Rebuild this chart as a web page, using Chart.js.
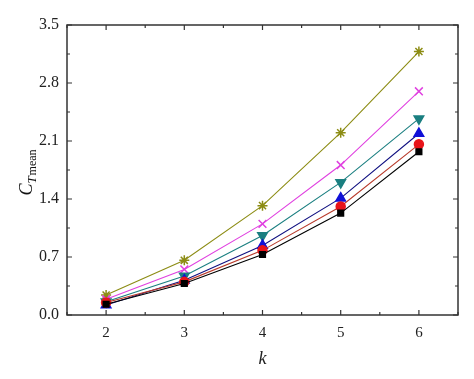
<!DOCTYPE html>
<html>
<head>
<meta charset="utf-8">
<script src="https://cdn.jsdelivr.net/npm/chart.js@4.4.0/dist/chart.umd.min.js"></script>
<style>
  html, body { margin: 0; padding: 0; background: #fff; }
  #wrap { width: 474px; height: 379px; position: relative; }
</style>
</head>
<body>
<div id="wrap"><canvas id="chart"></canvas></div>
<script>
// data
const kValues = [2, 3, 4, 5, 6];
const squareSeries = [0.13, 0.38, 0.73, 1.23, 1.97];
const circleSeries = [0.15, 0.40, 0.78, 1.31, 2.06];
const triangleSeries = [0.12, 0.42, 0.84, 1.41, 2.19];
const downTriSeries = [0.16, 0.47, 0.96, 1.60, 2.37];
const crossSeries = [0.19, 0.55, 1.10, 1.81, 2.70];
const starSeries = [0.24, 0.66, 1.32, 2.20, 3.18];
const yTicks = [0, 0.7, 1.4, 2.1, 2.8, 3.5];

const pts = arr => arr.map((v, i) => ({ x: kValues[i], y: v }));

function series(data, color, lineColor, style, radius, rotation) {
    return {
        data: pts(data),
        borderColor: lineColor,
        backgroundColor: color,
        pointBorderColor: color,
        pointBackgroundColor: color,
        pointStyle: style,
        pointRadius: radius,
        pointRotation: rotation || 0,
        pointBorderWidth: 1.5,
        borderWidth: 1.1,
        showLine: true,
        tension: 0
    };
}

// frame, inward ticks and y title
const framePlugin = {
    id: 'frame',
    afterDraw(chart) {
        const { ctx, chartArea: a, scales } = chart;
        const xs = scales.x, ys = scales.y;
        ctx.save();
        ctx.strokeStyle = '#333';
        ctx.lineWidth = 1.5;
        ctx.strokeRect(a.left, a.top, a.right - a.left, a.bottom - a.top);
        ctx.lineWidth = 1.2;
        ctx.beginPath();
        for (let k = 1.5; k <= 6.5; k += 0.5) {
            const px = xs.getPixelForValue(k);
            const len = Number.isInteger(k) ? 5 : 3;
            ctx.moveTo(px, a.bottom); ctx.lineTo(px, a.bottom - len);
            ctx.moveTo(px, a.top); ctx.lineTo(px, a.top + len);
        }
        for (let i = 0; i <= 10; i++) {
            const v = i * 0.35;
            const py = ys.getPixelForValue(v);
            const len = i % 2 === 0 ? 5 : 3;
            ctx.moveTo(a.left, py); ctx.lineTo(a.left + len, py);
            ctx.moveTo(a.right, py); ctx.lineTo(a.right - len, py);
        }
        ctx.stroke();

        // y title: C_{T mean}
        ctx.translate(26, 173);
        ctx.rotate(-Math.PI / 2);
        ctx.fillStyle = '#111';
        ctx.textBaseline = 'alphabetic';
        ctx.textAlign = 'left';
        ctx.font = 'italic 18px "Liberation Serif", serif';
        const cW = ctx.measureText('C').width;
        ctx.font = 'italic 13px "Liberation Serif", serif';
        const tW = ctx.measureText('T').width;
        ctx.font = '12px "Liberation Serif", serif';
        const mW = ctx.measureText('mean').width;
        let x0 = -(cW + tW + mW) / 2;
        ctx.font = 'italic 18px "Liberation Serif", serif';
        ctx.fillText('C', x0, 6);
        ctx.font = 'italic 13px "Liberation Serif", serif';
        ctx.fillText('T', x0 + cW, 10);
        ctx.font = '12px "Liberation Serif", serif';
        ctx.fillText('mean', x0 + cW + tW + 1, 10);
        ctx.restore();
    }
};

new Chart(document.getElementById('chart'), {
    type: 'scatter',
    data: {
        datasets: [
            series(squareSeries, '#000000', '#000000', 'rect', 4),
            series(circleSeries, '#e8141a', '#b83a2a', 'circle', 4.5),
            series(triangleSeries, '#1010d8', '#101080', 'triangle', 5.5),
            series(downTriSeries, '#1a7f80', '#1a7f80', 'triangle', 5.5, 180),
            series(crossSeries, '#e040e0', '#e040e0', 'crossRot', 5.5),
            series(starSeries, '#8c8c14', '#8c8c14', 'star', 5)
        ]
    },
    options: {
        responsive: true,
        maintainAspectRatio: false,
        animation: false,
        layout: { padding: { top: 25, right: 16, left: 0, bottom: 0 } },
        plugins: {
            legend: { display: false },
            tooltip: { enabled: false }
        },
        scales: {
            x: {
                type: 'linear',
                min: 1.5, max: 6.5,
                grid: { display: false, drawTicks: false },
                border: { display: false },
                afterBuildTicks: s => { s.ticks = kValues.map(v => ({ value: v })); },
                afterFit: s => { s.height = 64; },
                ticks: {
                    color: '#222',
                    padding: 9,
                    font: { family: '"Liberation Serif", serif', size: 15 }
                },
                title: {
                    display: true,
                    text: 'k',
                    color: '#222',
                    padding: { top: 0, bottom: 9 },
                    font: { family: '"Liberation Serif", serif', size: 18, style: 'italic' }
                }
            },
            y: {
                min: 0, max: 3.5,
                grid: { display: false, drawTicks: false },
                border: { display: false },
                afterBuildTicks: s => { s.ticks = yTicks.map(v => ({ value: v })); },
                afterFit: s => { s.width = 67; },
                ticks: {
                    color: '#222',
                    padding: 8,
                    font: { family: '"Liberation Serif", serif', size: 16 },
                    callback: v => Number(v).toFixed(1)
                }
            }
        }
    },
    plugins: [framePlugin]
});
</script>
</body>
</html>
